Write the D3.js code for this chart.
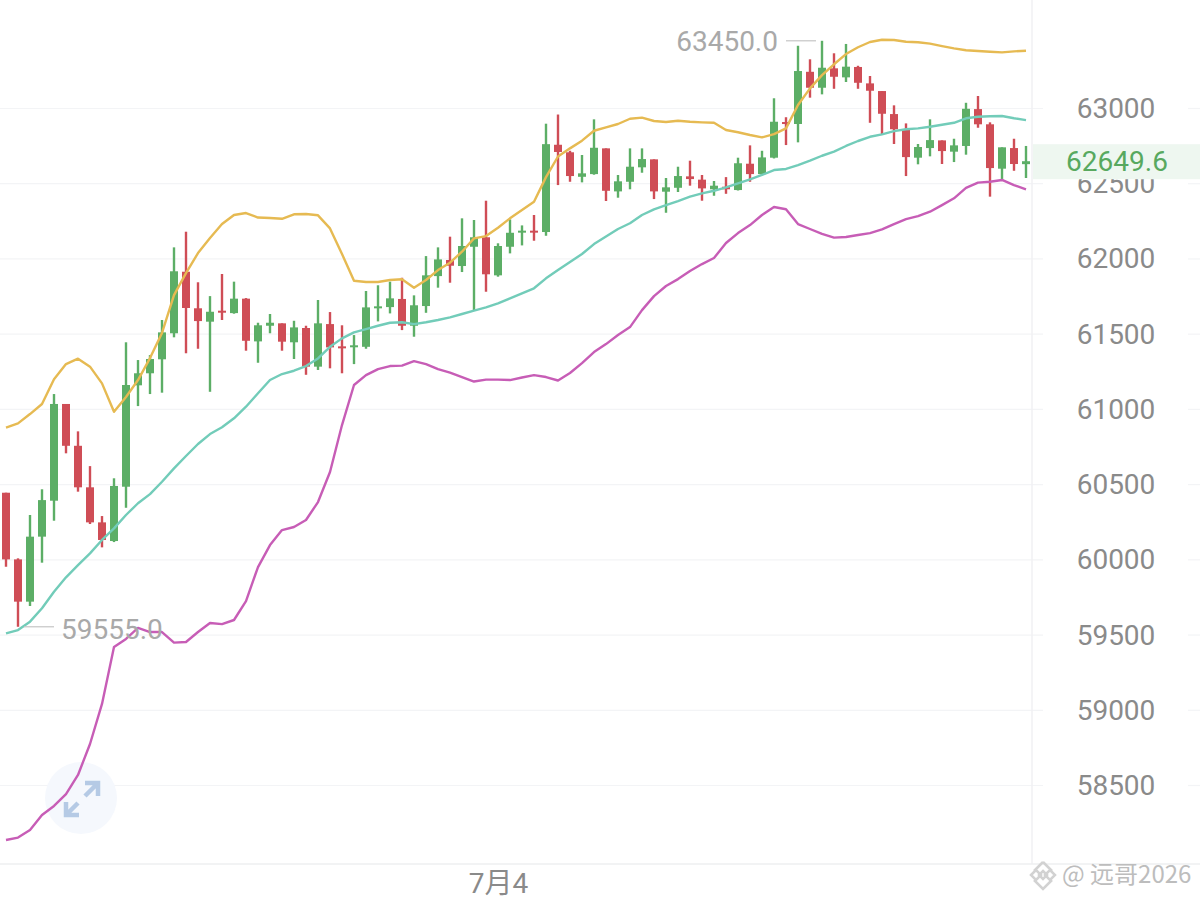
<!DOCTYPE html>
<html><head><meta charset="utf-8">
<script src="https://cdn.jsdelivr.net/npm/d3@7/dist/d3.min.js"></script>
<style>html,body{margin:0;padding:0;background:#fff}svg{display:block}</style>
</head><body><svg id="c" width="1200" height="900"></svg>
<script>
const opens=[60446,60003,59722,60154,60393,61036,60758,60482,60249,60125,60486,61160,61240,61333,61506,61915,61672,61583,61656,61640,61736,61452,61556,61572,61446,61541,61284,61567,61419,61416,61416,61676,61680,61734,61556,61687,61886,61993,61953,62081,62144,61891,62081,62179,62188,62179,62759,62709,62546,62564,62735,62449,62513,62609,62662,62447,62473,62549,62527,62463,62480,62458,62633,62564,62673,62910,62897,63244,63138,63267,63207,63276,63167,63116,62963,62857,62673,62737,62788,62713,62751,62996,62895,62600,62737,62630];
const closes=[60003,59722,60154,60397,61036,60758,60482,60249,60132,60491,61162,61240,61335,61512,61918,61674,61587,61649,61645,61736,61456,61559,61576,61450,61545,61284,61572,61412,61410,61426,61678,61685,61738,61556,61692,61891,61997,61955,62086,62144,61898,62086,62174,62188,62179,62763,62711,62551,62569,62739,62453,62516,62613,62664,62449,62476,62551,62531,62469,62487,62463,62636,62564,62675,62912,62899,63249,63138,63271,63211,63278,63171,63118,62965,62862,62677,62744,62790,62717,62755,62998,62895,62604,62742,62631,62649.6];
const highs=[60446,60010,60298,60469,61102,61036,60854,60623,60291,60542,61446,61328,61361,61594,62077,62181,61845,61753,61900,61849,61740,61576,61634,61572,61589,61556,61727,61647,61559,61494,61787,61825,61849,61875,61758,62019,62077,62148,62270,62259,62387,62104,62263,62223,62292,62899,62960,62719,62691,62928,62735,62558,62735,62735,62662,62538,62613,62653,62558,62518,62544,62673,62755,62719,63068,62942,63417,63327,63450,63367,63429,63284,63216,63116,63021,62901,62764,62928,62788,62799,63038,63083,62908,62742,62799,62751];
const lows=[59954,59555,59693,59981,60260,60708,60453,60238,60083,60118,60346,61022,61102,61111,61479,61373,61403,61117,61594,61636,61390,61310,61506,61390,61335,61230,61262,61273,61240,61301,61403,61585,61638,61527,61483,61642,61809,61842,61913,61660,61782,61882,62037,62090,62121,62154,62491,62513,62509,62560,62385,62407,62463,62573,62398,62307,62445,62487,62387,62420,62433,62455,62513,62560,62668,62757,62775,63072,63094,63131,63176,63131,62905,62830,62764,62551,62629,62682,62631,62644,62693,62872,62414,62525,62586,62538];
const upper=[60879,60907,60969,61036,61200,61301,61337,61284,61173,60984,61082,61195,61341,61508,61760,61906,62039,62139,62232,62292,62305,62275,62272,62267,62297,62299,62290,62203,62033,61855,61847,61847,61860,61865,61809,61860,61926,61975,62048,62137,62152,62207,62270,62325,62380,62544,62681,62735,62786,62852,62875,62897,62932,62939,62917,62910,62919,62912,62908,62905,62857,62842,62824,62808,62830,62868,63023,63134,63222,63294,63362,63407,63442,63457,63455,63444,63440,63431,63415,63400,63387,63382,63377,63373,63380,63384];
const middle=[59511,59533,59589,59678,59788,59884,59965,60043,60132,60209,60298,60376,60437,60519,60608,60690,60770,60836,60881,60941,61018,61107,61195,61235,61257,61288,61339,61416,61472,61512,61534,61556,61576,61579,61567,61579,61594,61612,61634,61656,61678,61705,61738,61771,61805,61871,61926,61979,62033,62099,62149,62199,62237,62292,62330,62358,62385,62414,62436,62453,62476,62503,62529,62558,62591,62598,62624,62653,62686,62713,62751,62784,62812,62828,62850,62862,62868,62879,62892,62905,62935,62945,62948,62950,62935,62923];
const lower=[58138,58154,58204,58304,58364,58443,58570,58776,59042,59420,59474,59547,59520,59520,59450,59454,59520,59580,59573,59600,59726,59952,60098,60198,60218,60265,60384,60584,60896,61162,61228,61268,61288,61291,61321,61301,61268,61245,61215,61185,61198,61198,61195,61212,61228,61215,61192,61242,61308,61381,61434,61494,61547,61660,61753,61820,61866,61920,61966,62006,62106,62172,62225,62292,62345,62330,62232,62199,62166,62142,62146,62159,62172,62196,62232,62265,62285,62314,62358,62403,62473,62507,62513,62525,62491,62463];
const priceTicks=[58500,59000,59500,60000,60500,61000,61500,62000,62500,63000];
const dateTickIndex=[41];
const dateTickLabels=["7月4"];
const maxLabel="63450.0", minLabel="59555.0", maxIndex=68, minIndex=1, maxValue=63450, minValue=59555;
const lastPrice="62649.6";

const svg=d3.select("#c");
const x=d3.scaleLinear().domain([0,85]).range([6,1026]);
const y=d3.scaleLinear().domain([58500,63000]).range([785.5,108.5]);
const GREEN="#5cae66",RED="#cf4d56";
const font="Roboto, 'Noto Sans', sans-serif";

// gridlines
const grid=svg.append("g").attr("stroke","#f3f4f6").attr("stroke-width",1.2);
grid.selectAll("line.a").data(priceTicks).join("line").attr("class","a")
  .attr("x1",0).attr("x2",1043).attr("y1",d=>y(d)).attr("y2",d=>y(d));
grid.selectAll("line.b").data(priceTicks).join("line").attr("class","b")
  .attr("x1",1188).attr("x2",1200).attr("y1",d=>y(d)).attr("y2",d=>y(d));
// frame
svg.append("line").attr("x1",1032).attr("x2",1032).attr("y1",0).attr("y2",864).attr("stroke","#f0f1f3").attr("stroke-width",1.5);
svg.append("line").attr("x1",0).attr("x2",1200).attr("y1",864).attr("y2",864).attr("stroke","#eeeff1").attr("stroke-width",1.5);

// expand button
const btn=svg.append("g");
btn.append("circle").attr("cx",81).attr("cy",798).attr("r",36).attr("fill","#f5f8fd");
btn.append("path").attr("d","M85 783 H98 V796 M97 784 L85 796 M66 802 V815 H79 M67 814 L78 803")
  .attr("fill","none").attr("stroke","#b5cae5").attr("stroke-width",4.5);

// candles
const idx=d3.range(opens.length);
const col=i=>closes[i]>=opens[i]?GREEN:RED;
svg.append("g").selectAll("line").data(idx).join("line")
  .attr("x1",x).attr("x2",x).attr("y1",i=>y(highs[i])).attr("y2",i=>y(lows[i]))
  .attr("stroke",col).attr("stroke-width",2.4);
svg.append("g").selectAll("rect").data(idx).join("rect")
  .attr("x",i=>x(i)-4).attr("width",8)
  .attr("y",i=>y(Math.max(opens[i],closes[i])))
  .attr("height",i=>Math.max(2,Math.abs(y(opens[i])-y(closes[i]))))
  .attr("fill",col);

// bands
const line=d3.line().x((d,i)=>x(i)).y(d=>y(d));
[[upper,"#e6ba52"],[middle,"#72ccb9"],[lower,"#c75db6"]].forEach(([s,c])=>{
  svg.append("path").attr("d",line(s)).attr("fill","none").attr("stroke",c)
    .attr("stroke-width",2.4).attr("stroke-linejoin","round");
});

// y axis
const yAxis=svg.append("g").attr("transform","translate(1116,0)")
  .call(d3.axisRight(y).tickValues(priceTicks).tickSize(0).tickPadding(0).tickFormat(d3.format("d")));
yAxis.select(".domain").remove();
yAxis.selectAll("text").attr("text-anchor","middle").attr("fill","#8a8a8a")
  .attr("font-family",font).attr("font-size",28);

// x axis
const xAxis=svg.append("g").attr("transform","translate(0,869)")
  .call(d3.axisBottom(x).tickValues(dateTickIndex).tickSize(0).tickPadding(0).tickFormat((d,i)=>dateTickLabels[i]));
xAxis.select(".domain").remove();
xAxis.selectAll("text").attr("fill","#8a8a8a").attr("font-family","Roboto,'Noto Sans CJK SC',sans-serif").attr("font-size",28).attr("dy","0.85em");

// max/min labels
svg.append("line").attr("x1",x(maxIndex)-36).attr("x2",x(maxIndex)-6).attr("y1",y(maxValue)).attr("y2",y(maxValue)).attr("stroke","#c4c4c4").attr("stroke-width",1.2);
svg.append("text").attr("x",x(maxIndex)-44).attr("y",y(maxValue)).attr("dy","0.35em").attr("text-anchor","end")
  .attr("fill","#a9a9a9").attr("font-family",font).attr("font-size",28).text(maxLabel);
svg.append("line").attr("x1",x(minIndex)+6).attr("x2",x(minIndex)+36).attr("y1",y(minValue)).attr("y2",y(minValue)).attr("stroke","#c4c4c4").attr("stroke-width",1.2);
svg.append("text").attr("x",x(minIndex)+43).attr("y",y(minValue)+2).attr("dy","0.35em")
  .attr("fill","#a9a9a9").attr("font-family",font).attr("font-size",28).text(minLabel);

// last price tag
const lp=+lastPrice;
svg.append("rect").attr("x",1033).attr("width",167).attr("y",y(lp)-17).attr("height",35).attr("fill","#eef7f0");
svg.append("text").attr("x",1117).attr("y",y(lp)).attr("dy","0.35em").attr("text-anchor","middle")
  .attr("fill","#58a95f").attr("font-family",font).attr("font-size",28).text(lastPrice);

// watermark
const wm=svg.append("g").attr("fill","none").attr("stroke","#d2d2d2").attr("stroke-width",2.5);
wm.append("path").attr("d","M1043 862 L1052 871 M1043 862 L1034 871 M1031 875 L1036 870 L1041 875 L1036 880 Z M1045 875 L1050 870 L1055 875 L1050 880 Z M1034 880 L1043 889 L1052 880");
wm.append("path").attr("d","M1043 871 L1047 875 L1043 879 L1039 875 Z");
svg.append("text").attr("x",1062).attr("y",883).attr("fill","#bdbdbd")
  .attr("font-family","'Noto Sans CJK SC',sans-serif").attr("font-size",24).text("@ 远哥2026");
</script></body></html>
